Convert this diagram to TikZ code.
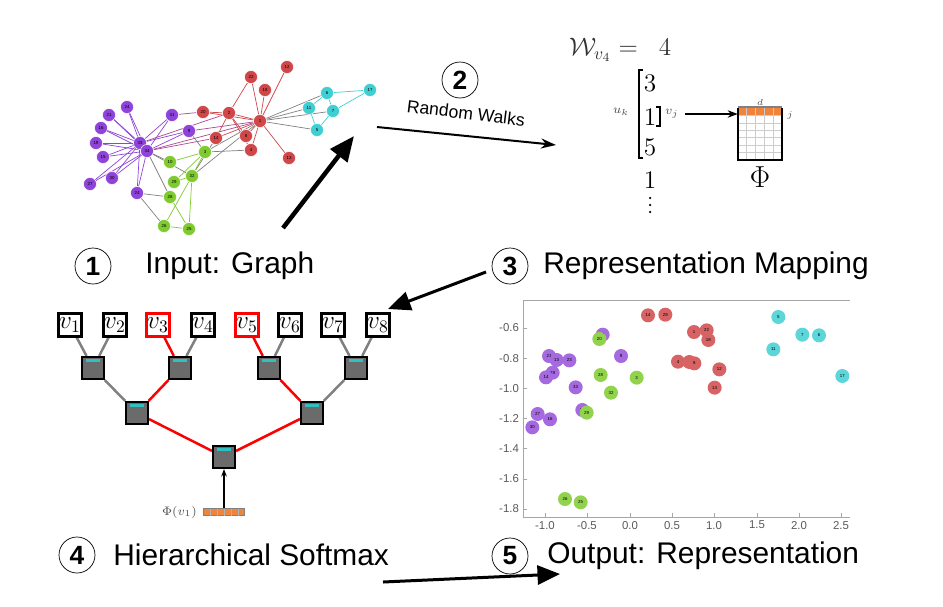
\documentclass[tikz,border=0pt]{standalone}
\usepackage{fontspec}
\setmainfont{Liberation Sans}
\usetikzlibrary{arrows.meta, backgrounds}
\definecolor{gpurple}{HTML}{8E44D8}
\definecolor{gred}{HTML}{D0474A}
\definecolor{gcyan}{HTML}{3FCFD2}
\definecolor{ggreen}{HTML}{7FCB2F}
\definecolor{inbox}{HTML}{6B6B6B}
\definecolor{orng}{HTML}{F0843C}
\tikzset{
  gnode/.style={circle, draw=white, line width=0.3pt, inner sep=0, minimum size=0.26cm, font=\fontsize{2.5}{3}\selectfont},
  sdot/.style={circle, inner sep=0, minimum size=0.28cm, font=\fontsize{2.5}{3}\selectfont},
  numc/.style={circle, draw, thin, minimum size=0.72cm, inner sep=0, font=\fontsize{15}{16}\selectfont\bfseries},
  steplabel/.style={font=\fontsize{17}{19}\selectfont, anchor=west, inner sep=0},
  leaf/.style={draw, very thick, fill=white, minimum size=0.46cm, inner sep=0, font=\Large},
  inner/.style={draw=black, very thick, fill=inbox, minimum size=0.44cm, inner sep=0,
    label={[fill=gcyan!80!teal, inner sep=0, minimum width=0.28cm, minimum height=0.05cm, anchor=north, yshift=-0.06cm]north:{}}},
  bigarrow/.style={line width=0.09cm, -{Triangle[length=0.5cm, width=0.42cm]}},
  axtick/.style={font=\fontsize{6.5}{7}\selectfont, text=gray!70!black, inner sep=1pt},
  branch/.style={line width=0.05cm}
}
\begin{document}
\begin{tikzpicture}[x=0.02cm, y=-0.02cm]
\useasboundingbox (0,0) rectangle (943,606);

% input graph
\node (p1) at (127,107) [gnode, fill=gpurple]{24};
\node (p2) at (109,115) [gnode, fill=gpurple]{21};
\node (p3) at (101,128) [gnode, fill=gpurple]{16};
\node (p4) at (96,143) [gnode, fill=gpurple]{19};
\node (p5) at (103,157) [gnode, fill=gpurple]{15};
\node (p6) at (90,184) [gnode, fill=gpurple]{27};
\node (p7) at (112,178) [gnode, fill=gpurple]{30};
\node (p8) at (137,193) [gnode, fill=gpurple]{24};
\node (p9) at (140,143) [gnode, fill=gpurple]{33};
\node (p10) at (147,151) [gnode, fill=gpurple]{34};
\node (p11) at (172,115) [gnode, fill=gpurple]{31};
\node (p12) at (189,131) [gnode, fill=gpurple]{9};
\node (r1) at (203,112) [gnode, fill=gred]{20};
\node (r2) at (229,113) [gnode, fill=gred]{2};
\node (r3) at (260,121) [gnode, fill=gred]{1};
\node (r4) at (251,77) [gnode, fill=gred]{22};
\node (r5) at (265,90) [gnode, fill=gred]{18};
\node (r6) at (287,67) [gnode, fill=gred]{12};
\node (r7) at (216,138) [gnode, fill=gred]{14};
\node (r8) at (246,136) [gnode, fill=gred]{8};
\node (r9) at (251,150) [gnode, fill=gred]{4};
\node (r10) at (289,158) [gnode, fill=gred]{13};
\node (c1) at (327,93) [gnode, fill=gcyan]{6};
\node (c2) at (370,90) [gnode, fill=gcyan]{17};
\node (c3) at (309,108) [gnode, fill=gcyan]{11};
\node (c4) at (333,111) [gnode, fill=gcyan]{7};
\node (c5) at (317,130) [gnode, fill=gcyan]{5};
\node (g1) at (205,152) [gnode, fill=ggreen]{3};
\node (g2) at (170,162) [gnode, fill=ggreen]{10};
\node (g3) at (174,182) [gnode, fill=ggreen]{29};
\node (g4) at (192,176) [gnode, fill=ggreen]{32};
\node (g5) at (170,197) [gnode, fill=ggreen]{28};
\node (g6) at (164,226) [gnode, fill=ggreen]{26};
\node (g7) at (189,229) [gnode, fill=ggreen]{25};
\begin{scope}[on background layer, opacity=0.5]
\foreach \a in {p1,p2,p3,p4,p5,p6,p7,p8,p11,p12}
  {\draw [gpurple] (p9) -- (\a); \draw [gpurple] (p10) -- (\a);}
\draw [gpurple] (p9) -- (p10);
\foreach \a/\b in {p11/r1, p12/r3, p10/r3, p10/r7, p9/r2}
  \draw [gpurple!50!gred] (\a) -- (\b);
\foreach \a in {r1,r2,r4,r5,r6,r7,r8,r9,r10}
  \draw [gred] (r3) -- (\a);
\foreach \a in {r1,r4,r8,r9,r7}
  \draw [gred] (r2) -- (\a);
\foreach \a in {c1,c3,c4,c5,g1,g4}
  \draw [gray] (r3) -- (\a);
\foreach \a/\b in {c1/c2, c1/c3, c1/c4, c4/c2, c4/c5, c3/c5}
  \draw [gcyan] (\a) -- (\b);
\foreach \a/\b in {p10/g2, p10/g4, p10/g5, p8/g5, p8/g6, p12/g1, g1/r9, g4/r7}
  \draw [gray] (\a) -- (\b);
\foreach \a/\b in {g1/g2, g1/g4, g1/g3, g4/g3, g4/g6, g4/g7, g5/g7, g6/g7}
  \draw [ggreen] (\a) -- (\b);
\end{scope}

% random walk
\node (n2) at (460,80) [numc]{2};
\node (rw) at (466,113) [rotate=-7, font=\fontsize{10}{11}\selectfont]{Random Walks};
\node (walk) at (563,50) [anchor=west, font=\Large, text=black!80]{$\mathcal{W}_{v_4} =\;\; 4$};
\node (w3) at (650,83) [font=\Large]{$3$};
\node (w1) at (650,117) [font=\Large]{$1$};
\node (w5) at (650,147) [font=\Large]{$5$};
\node (w1b) at (650,180) [font=\Large, inner sep=0]{$1$};
\foreach \d in {198,205,212}
  \fill (650,\d) circle (0.025cm);
\draw [thick] (643,70) -- (639,70) -- (639,158) -- (643,158);
\draw [thick] (656,107) -- (660,107) -- (660,126) -- (656,126);
\node (uk) at (621,112) [font=\scriptsize, text=gray!60!black]{$u_k$};
\node (vj) at (672,114) [font=\scriptsize, text=gray!60!black]{$v_j$};
\node (phi) at (760,134) [minimum width=0.88cm, minimum height=1.04cm, inner sep=0]{};
\fill [orng] (738,108) rectangle (782,115);
\foreach \i in {1,...,4}
  \draw [gray!40] ({738+8.8*\i},108) -- ({738+8.8*\i},160);
\foreach \i in {1,...,6}
  \draw [gray!40] (738,{108+7.43*\i}) -- (782,{108+7.43*\i});
\draw [thick] (738,108) -- (738,160) -- (782,160) -- (782,108);
\draw [gray, thick] (738,107) -- (782,107);
\node at (760,102) [font=\tiny, text=gray!60!black]{$d$};
\node at (790,115) [font=\tiny, text=gray!60!black]{$j$};
\node at (760,177) [font=\LARGE]{$\Phi$};
\draw [thick, -{Stealth[length=0.2cm]}] (vj.east) -- (vj.east -| phi.west);

% step labels
\node (n1) at (93,266) [numc]{1};
\node at (145,266) [steplabel]{Input: Graph};
\node (n3) at (510,266) [numc]{3};
\node at (543,266) [steplabel]{Representation Mapping};
\node (n4) at (77,555) [numc]{4};
\node at (113,555) [steplabel]{Hierarchical Softmax};
\node (n5) at (510,556) [numc]{5};
\node at (547,556) [steplabel]{Output: Representation};

% flow arrows
\coordinate (a1s) at (283,228); \coordinate (a1e) at (354,136);
\coordinate (a2s) at (377,127); \coordinate (a2e) at (556,145);
\coordinate (a3s) at (486,272); \coordinate (a3e) at (388,309);
\coordinate (a4s) at (383,582); \coordinate (a4e) at (560,574);
\draw [bigarrow] (a1s) -- (a1e);
\draw [line width=0.04cm, -{Stealth[length=0.3cm, width=0.2cm]}] (a2s) -- (a2e);
\draw [line width=0.06cm, -{Triangle[length=0.45cm, width=0.38cm]}] (a3s) -- (a3e);
\draw [line width=0.06cm, -{Triangle[length=0.45cm, width=0.38cm]}] (a4s) -- (a4e);

% hierarchical softmax tree
\node (v1) at (70,325) [leaf]{$v_1$};
\node (v2) at (115,325) [leaf]{$v_2$};
\node (v3) at (158,325) [leaf, draw=red]{$v_3$};
\node (v4) at (203,325) [leaf]{$v_4$};
\node (v5) at (247,325) [leaf, draw=red]{$v_5$};
\node (v6) at (290,325) [leaf]{$v_6$};
\node (v7) at (333,325) [leaf]{$v_7$};
\node (v8) at (378,325) [leaf]{$v_8$};
\node (h1) at (93,368) [inner]{};
\node (h2) at (180,368) [inner]{};
\node (h3) at (269,368) [inner]{};
\node (h4) at (356,368) [inner]{};
\node (k1) at (137,413) [inner]{};
\node (k2) at (312,413) [inner]{};
\node (root) at (224,457) [inner]{};
\begin{scope}[on background layer]
\foreach \a/\b in {v1/h1, v2/h1, v4/h2, v6/h3, v7/h4, v8/h4, h1/k1, h4/k2}
  \draw [branch, gray] (\a) -- (\b);
\foreach \a/\b in {v3/h2, h2/k1, k1/root, root/k2, k2/h3, v5/h3}
  \draw [branch, red] (\a) -- (\b);
\end{scope}
\node (emb) at (224,512) [draw=gray, fill=orng, minimum width=0.82cm, minimum height=0.14cm, inner sep=0]{};
\foreach \i in {1,...,5}
  \draw [gray!60] ({204+6.83*\i},508.5) -- ({204+6.83*\i},515.5);
\node at (emb.west) [anchor=east, font=\scriptsize, text=gray!60!black]{$\Phi(v_1)$};
\draw [thick, -{Stealth[length=0.15cm]}] (emb) -- (root);

% scatter plot
\draw [gray!70] (523,517) -- (523,300) -- (850,300);
\draw [gray!70] (523,517) -- (850,517);
\foreach \v/\p in {-0.6/328, -0.8/358.2, -1.0/388.4, -1.2/418.6, -1.4/448.8, -1.6/479, -1.8/509}
  {\node at (521,\p) [axtick, anchor=east]{\v}; \draw [gray!70] (523,\p) -- (527,\p);}
\foreach \v/\p in {-1.0/545, -0.5/587, 0.0/630, 0.5/672, 1.0/714, 1.5/757, 2.0/799, 2.5/841}
  {\node at (\p,519) [axtick, anchor=north]{\v}; \draw [gray!70] (\p,517) -- (\p,513);}
\foreach \a/\b/\l in {207/168/21, 230/180/13, 268/181/23, 218/218/19, 198/232/14, 287/262/33, 307/330/34, 173/342/27, 210/358/16, 157/382/30, 368/104/31, 423/168/9}
  \node (s\l) at ({480+\a/3},{300+\b/3}) [sdot, fill=gpurple!80]{\l};
\foreach \a/\b/\l in {358/117/20, 362/225/28, 393/278/32, 470/233/3, 320/338/29, 255/597/26, 302/607/25}
  \node (s\l) at ({480+\a/3},{300+\b/3}) [sdot, fill=ggreen!85]{\l};
\foreach \a/\b/\l in {504/46/14, 556/44/29, 642/96/1, 680/91/22, 685/120/18, 594/185/4, 628/186/2, 643/190/8, 718/208/12, 704/263/13}
  \node (s\l) at ({480+\a/3},{300+\b/3}) [sdot, fill=gred!85]{\l};
\foreach \a/\b/\l in {895/51/5, 967/104/7, 1017/106/6, 880/148/11, 1087/228/17}
  \node (s\l) at ({480+\a/3},{300+\b/3}) [sdot, fill=gcyan!85]{\l};
\end{tikzpicture}
\end{document}
